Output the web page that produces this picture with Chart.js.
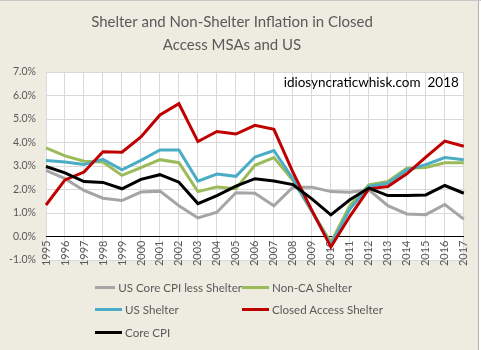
<!DOCTYPE html>
<html>
<head>
<meta charset="utf-8">
<script src="https://cdn.jsdelivr.net/npm/chart.js@4.4.1/dist/chart.umd.min.js"></script>
<style>
  html, body { margin: 0; padding: 0; background: #fff; }
  #wrap {
    position: relative; width: 481px; height: 350px; background: #EEEBE0; overflow: hidden;
    box-shadow: inset 0 1px 0 #C8C8C8, inset -2px 0 0 #FFFFFF, inset -3px 0 0 #B0B0B0;
  }
  #legend {
    position: absolute; left: 95px; top: 276px;
    display: grid; grid-template-columns: 147px auto;
    font: 11.6px Lato, sans-serif; color: #595959;
  }
  .item { display: flex; align-items: center; height: 22.5px; white-space: nowrap; }
  .swatch { width: 27px; height: 3px; margin-right: 3px; }
</style>
</head>
<body>
<div id="wrap">
  <canvas id="chart" width="481" height="350"></canvas>
  <div id="legend"></div>
</div>
<script>
// data (annual % change)
const years = ['1995', '1996', '1997', '1998', '1999', '2000', '2001', '2002', '2003', '2004', '2005', '2006',
               '2007', '2008', '2009', '2010', '2011', '2012', '2013', '2014', '2015', '2016', '2017'];

const coreLessShelter = [2.81, 2.46, 1.96, 1.63, 1.53, 1.89, 1.93, 1.31, 0.79, 1.03, 1.86, 1.84,
                         1.31, 2.10, 2.10, 1.91, 1.88, 1.99, 1.31, 0.96, 0.93, 1.36, 0.74];
const nonCaShelter = [3.77, 3.43, 3.20, 3.17, 2.60, 2.93, 3.27, 3.14, 1.91, 2.11, 2.03, 3.03,
                      3.36, 2.39, 1.07, -0.25, 1.31, 2.20, 2.34, 2.90, 2.94, 3.14, 3.14];
const usShelter = [3.23, 3.17, 3.06, 3.28, 2.84, 3.24, 3.68, 3.68, 2.36, 2.66, 2.56, 3.38,
                   3.66, 2.46, 1.07, -0.35, 1.17, 2.13, 2.27, 2.83, 3.06, 3.36, 3.27];
const closedAccessShelter = [1.34, 2.41, 2.74, 3.61, 3.59, 4.24, 5.17, 5.65, 4.04, 4.47, 4.36, 4.73,
                             4.56, 2.74, 1.11, -0.45, 0.86, 2.03, 2.13, 2.67, 3.38, 4.06, 3.84];
const coreCpi = [2.98, 2.71, 2.34, 2.30, 2.03, 2.43, 2.63, 2.31, 1.40, 1.74, 2.14, 2.46,
                 2.36, 2.21, 1.60, 0.92, 1.56, 2.06, 1.74, 1.74, 1.77, 2.17, 1.84];

const seriesNames = ['US Core CPI less Shelter', 'Non-CA Shelter', 'US Shelter', 'Closed Access Shelter', 'Core CPI'];
const yMin = -1, yMax = 7, yStep = 1;

const titleLines = ['Shelter and Non-Shelter Inflation in Closed', 'Access MSAs and US'];
const watermark = 'idiosyncraticwhisk.com  2018';

const colors = ['#A5A5A5', '#9BBB59', '#4BACC6', '#C00000', '#000000'];
const seriesData = [coreLessShelter, nonCaShelter, usShelter, closedAccessShelter, coreCpi];
const FONT = 'Lato, sans-serif';

// white plot area on the beige background
const plotBg = {
    id: 'plotBg',
    beforeDraw(chart) {
        const { ctx, chartArea: a } = chart;
        ctx.save();
        ctx.fillStyle = '#FFFFFF';
        ctx.fillRect(a.left, a.top, a.right - a.left, a.bottom - a.top);
        ctx.restore();
    }
};

const stamp = {
    id: 'stamp',
    afterDraw(chart) {
        const { ctx, chartArea: a } = chart;
        ctx.save();
        ctx.font = '13.5px ' + FONT;
        ctx.fillStyle = '#000000';
        ctx.textAlign = 'right';
        ctx.textBaseline = 'alphabetic';
        ctx.fillText(watermark, a.right - 5, a.top + 15);
        ctx.restore();
    }
};

const datasets = seriesData.map((d, i) => ({
    label: seriesNames[i],
    data: d,
    borderColor: colors[i],
    backgroundColor: colors[i],
    borderWidth: 3,
    pointRadius: 0,
    tension: 0,
    order: seriesData.length - i   // later series on top, like the original
}));

const chart = new Chart(document.getElementById('chart'), {
    type: 'line',
    data: { labels: years, datasets },
    plugins: [plotBg, stamp],
    options: {
        responsive: false,
        animation: false,
        layout: { padding: { left: 0, right: 17, top: 0, bottom: 90 } },
        plugins: {
            legend: { display: false },
            tooltip: { enabled: false },
            title: {
                display: true,
                text: titleLines,
                color: '#595959',
                font: { family: FONT, size: 15, weight: 'normal', lineHeight: 1.5 },
                padding: { top: 11, bottom: 16 }
            }
        },
        scales: {
            x: {
                position: { y: 0 },
                offset: false,
                grid: { color: '#D9D9D9', drawTicks: false },
                border: { color: '#000000', width: 1 },
                ticks: {
                    color: '#595959',
                    font: { family: FONT, size: 11 },
                    minRotation: 90, maxRotation: 90,
                    autoSkip: false,
                    padding: 4
                }
            },
            y: {
                min: yMin, max: yMax,
                grid: { color: '#D9D9D9', drawTicks: false },
                border: { display: false },
                ticks: {
                    stepSize: yStep,
                    color: '#595959',
                    font: { family: FONT, size: 10.5 },
                    padding: 10,
                    callback: v => v.toFixed(1) + '%'
                },
                afterFit(scale) { scale.width = 46; }
            }
        }
    }
});

// legend in two columns, built from the chart's datasets
const legendEl = document.getElementById('legend');
chart.data.datasets.forEach(ds => {
    const item = document.createElement('div');
    item.className = 'item';
    const sw = document.createElement('span');
    sw.className = 'swatch';
    sw.style.background = ds.borderColor;
    const txt = document.createElement('span');
    txt.textContent = ds.label;
    item.appendChild(sw);
    item.appendChild(txt);
    legendEl.appendChild(item);
});
</script>
</body>
</html>
